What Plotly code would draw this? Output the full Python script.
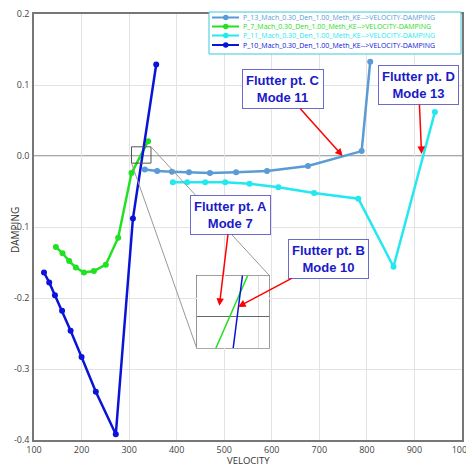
import plotly.graph_objects as go

p13_x = [333, 359, 390, 426, 470, 525, 590, 676, 789, 807]
p13_y = [-0.019, -0.021, -0.022, -0.023, -0.024, -0.023, -0.021, -0.014, 0.007, 0.133]
p7_x = [146, 160, 174, 188, 205, 226, 251, 277, 305, 340]
p7_y = [-0.128, -0.137, -0.148, -0.157, -0.164, -0.162, -0.153, -0.115, -0.024, 0.021]
p11_x = [392, 422, 460, 502, 553, 614, 689, 782, 856, 943]
p11_y = [-0.037, -0.037, -0.037, -0.037, -0.039, -0.044, -0.052, -0.060, -0.156, 0.062]
p10_x = [121, 132, 144, 159, 177, 200, 230, 272, 308, 357]
p10_y = [-0.164, -0.178, -0.196, -0.218, -0.246, -0.283, -0.332, -0.392, -0.088, 0.129]

names = ["P_13_Mach_0.30_Den_1.00_Meth_KE-->VELOCITY-DAMPING",
         "P_7_Mach_0.30_Den_1.00_Meth_KE-->VELOCITY-DAMPING",
         "P_11_Mach_0.30_Den_1.00_Meth_KE-->VELOCITY-DAMPING",
         "P_10_Mach_0.30_Den_1.00_Meth_KE-->VELOCITY-DAMPING"]
colors = ["#5b9bd5", "#22e022", "#22e8f0", "#0a14d8"]
series = [(p13_x, p13_y), (p7_x, p7_y), (p11_x, p11_y), (p10_x, p10_y)]
y_ticks = [-0.4, -0.3, -0.2, -0.1, 0.0, 0.1, 0.2]
y_ticklabels = ["-0.4", "-0.3", "-0.2", "-0.1", "0.0", "0.1", "0.2"]

XR = [100, 1000]
YR = [-0.4, 0.2]
zoom_x = [305, 346]
zoom_y = [-0.010, 0.013]
inset_dx = [0.380, 0.550]
inset_dy = [0.216, 0.386]

OFF = 8  # page body margin
W, H = 466, 458
ML, MR, MT, MB = 26, 12, 6, 26
PW, PH = W - ML - MR, H - MT - MB

fig = go.Figure()
for (x, y), n, c in zip(series, names, colors):
    fig.add_trace(go.Scatter(x=x, y=y, mode="lines+markers", name=n, showlegend=False,
                             line=dict(color=c, width=2.5), marker=dict(color=c, size=6)))
for (x, y), c in zip([series[1], series[3]], [colors[1], colors[3]]):
    fig.add_trace(go.Scatter(x=x, y=y, mode="lines", xaxis="x2", yaxis="y2", showlegend=False,
                             line=dict(color=c, width=1.5), hoverinfo="skip"))

def px(v):
    return (v - XR[0]) / (XR[1] - XR[0])
def py(v):
    return (v - YR[0]) / (YR[1] - YR[0])
def ppx(p):  # screen pixel -> paper
    return (p - OFF - ML) / PW
def ppy(p):
    return (H - MB - (p - OFF)) / PH

shapes = [
    dict(type="rect", xref="x", yref="y", x0=zoom_x[0], x1=zoom_x[1], y0=zoom_y[0], y1=zoom_y[1],
         line=dict(color="#555", width=1)),
    dict(type="line", xref="paper", yref="paper", x0=px(zoom_x[1]), y0=py(zoom_y[1]),
         x1=inset_dx[1], y1=inset_dy[1], line=dict(color="#999", width=1)),
    dict(type="line", xref="paper", yref="paper", x0=px(zoom_x[0]), y0=py(zoom_y[0]),
         x1=inset_dx[0], y1=inset_dy[0], line=dict(color="#999", width=1)),
    dict(type="rect", xref="paper", yref="paper", x0=inset_dx[0], x1=inset_dx[1], y0=inset_dy[0], y1=inset_dy[1],
         line=dict(color="#555", width=1.2), fillcolor="white", layer="below"),
    dict(type="rect", xref="paper", yref="paper", x0=ppx(209), x1=ppx(461), y0=ppy(54), y1=ppy(12),
         line=dict(color="#3cc8d8", width=1), fillcolor="white"),
]
ann = []
rows = [17.5, 26.5, 35.5, 45]
for r, n, c in zip(rows, names, colors):
    shapes.append(dict(type="line", xref="paper", yref="paper", x0=ppx(212), x1=ppx(239), y0=ppy(r), y1=ppy(r),
                       line=dict(color=c, width=2)))
    shapes.append(dict(type="circle", xref="paper", yref="paper", x0=ppx(223), x1=ppx(228.5),
                       y0=ppy(r + 2.75), y1=ppy(r - 2.75), line=dict(color=c, width=0), fillcolor=c))
    ann.append(dict(text=n, x=ppx(241), y=ppy(r), xref="paper", yref="paper", xanchor="left", yanchor="middle",
                    showarrow=False, font=dict(size=7, color=c, family="Open Sans")))

ann += [
    dict(text="VELOCITY", x=0.5, y=ppy(460), xref="paper", yref="paper", showarrow=False,
         xanchor="center", yanchor="middle", font=dict(size=9.5, color="#333", family="Open Sans")),
    dict(text="DAMPING", x=ppx(15), y=ppy(230), xref="paper", yref="paper", showarrow=False, textangle=-90,
         xanchor="center", yanchor="middle", font=dict(size=10, color="#333", family="Open Sans")),
]

box = dict(showarrow=True, arrowcolor="red", arrowwidth=1.5, arrowhead=2, arrowsize=1,
           bgcolor="white", bordercolor="#6a6ad0", borderwidth=1, borderpad=3,
           font=dict(family="Arial", size=13, color="#1a1ac8"))
ann += [
    dict(text="<b>Flutter pt. C<br>Mode 11</b>", x=749, y=0, xref="x", yref="y", ax=-60, ay=-67, **box),
    dict(text="<b>Flutter pt. D<br>Mode 13</b>", x=915, y=0.003, xref="x", yref="y", ax=-3, ay=-69, **box),
    dict(text="<b>Flutter pt. A<br>Mode 7</b>", x=0.433, y=0.315, xref="paper", yref="paper", ax=11, ay=-91, **box),
    dict(text="<b>Flutter pt. B<br>Mode 10</b>", x=0.477, y=0.3125, xref="paper", yref="paper", ax=90, ay=-48, **box),
]

ax_common = dict(showline=True, linecolor="#777", linewidth=1.5, mirror=True, gridcolor="#e3e3e3",
                 tickfont=dict(size=9, color="#444", family="Open Sans"), zeroline=False, ticks="",
                 automargin=False, ticklabeloverflow="allow")
fig.update_layout(
    width=W, height=H, margin=dict(l=ML, r=MR, t=MT, b=MB),
    paper_bgcolor="white", plot_bgcolor="white",
    xaxis=dict(range=XR, dtick=100, ticklabelstandoff=0, **ax_common),
    yaxis=dict(range=[YR[0], YR[1] + 1e-4], tickmode="array", tickvals=y_ticks, ticktext=y_ticklabels,
               ticklabelstandoff=1, **ax_common),
    xaxis2=dict(domain=inset_dx, range=zoom_x, anchor="y2", showticklabels=False, showgrid=True, gridcolor="#ddd",
                dtick=40, tick0=300, zeroline=False, showline=False),
    yaxis2=dict(domain=inset_dy, range=zoom_y, anchor="x2", showticklabels=False, showgrid=False,
                zeroline=True, zerolinecolor="#666", zerolinewidth=1, showline=False),
    shapes=shapes, annotations=ann, showlegend=False,
)
fig.add_hline(y=0, line=dict(color="#555", width=1.2), layer="below")
fig.write_html("out.html")
